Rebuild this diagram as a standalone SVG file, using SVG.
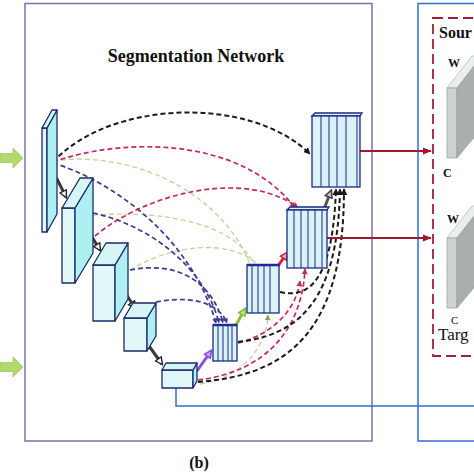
<svg xmlns="http://www.w3.org/2000/svg" width="474" height="474" viewBox="0 0 474 474">
<style>
.frame{fill:none;stroke-width:1.5}
.blk{stroke:#1b2a6b;stroke-width:1.3;stroke-linejoin:round}
.front{fill:#e2f8f8}
.side{fill:#aef0f2}
.top{fill:#d6f6f6}
.dec{fill:#daf2f8;stroke:#1b2a80;stroke-width:1.3}
.col{stroke:#1b2a80;stroke-width:1}
.dtop{stroke:#1c2a9a;stroke-width:2.5}
.d{fill:none;stroke-dasharray:5 3}
.nv{stroke:#3c3a8e;stroke-width:1.7}
.gr{stroke:#b8d69c;stroke-width:1.3}
.rd{stroke:#c4285a;stroke-width:1.7}
.bk{stroke:#1a1a1a;stroke-width:2}
.enc{stroke:#3a3a3a;stroke-width:3;fill:none}
.t{font-family:"Liberation Serif","Times New Roman",serif;fill:#111}
</style>
<defs>
<marker id="mk" viewBox="0 0 10 10" refX="9" refY="5" markerWidth="7" markerHeight="7" markerUnits="userSpaceOnUse" orient="auto"><path d="M0,0L10,5L0,10z" fill="#1a1a1a"/></marker>
<marker id="mr" viewBox="0 0 10 10" refX="9" refY="5" markerWidth="6" markerHeight="6" markerUnits="userSpaceOnUse" orient="auto"><path d="M0,0L10,5L0,10z" fill="#c4285a"/></marker>
<marker id="mg" viewBox="0 0 10 10" refX="9" refY="5" markerWidth="6" markerHeight="6" markerUnits="userSpaceOnUse" orient="auto"><path d="M0,0L10,5L0,10z" fill="#7aa84a"/></marker>
<marker id="mn" viewBox="0 0 10 10" refX="9" refY="5" markerWidth="5" markerHeight="5" markerUnits="userSpaceOnUse" orient="auto"><path d="M0,0L10,5L0,10z" fill="#3c3a8e"/></marker>
<marker id="me" viewBox="0 0 10 10" refX="8" refY="5" markerWidth="9" markerHeight="9" markerUnits="userSpaceOnUse" orient="auto"><path d="M1,1L9,5L1,9z" fill="#eef4f4" stroke="#222" stroke-width="1.5"/></marker>
<marker id="mp" viewBox="0 0 10 10" refX="8" refY="5" markerWidth="9" markerHeight="9" markerUnits="userSpaceOnUse" orient="auto"><path d="M1,1L9,5L1,9z" fill="#c8a8ff" stroke="#8a4fe6" stroke-width="1.8"/></marker>
<marker id="mG" viewBox="0 0 10 10" refX="8" refY="5" markerWidth="9" markerHeight="9" markerUnits="userSpaceOnUse" orient="auto"><path d="M1,1L9,5L1,9z" fill="#c8e890" stroke="#86c03a" stroke-width="1.8"/></marker>
<marker id="mR" viewBox="0 0 10 10" refX="8" refY="5" markerWidth="9" markerHeight="9" markerUnits="userSpaceOnUse" orient="auto"><path d="M1,1L9,5L1,9z" fill="#f8b0b8" stroke="#d0203a" stroke-width="1.8"/></marker>
<marker id="mK" viewBox="0 0 10 10" refX="8" refY="5" markerWidth="9" markerHeight="9" markerUnits="userSpaceOnUse" orient="auto"><path d="M1,1L9,5L1,9z" fill="#d0d0d0" stroke="#444" stroke-width="1.8"/></marker>
<marker id="ma" viewBox="0 0 10 10" refX="9" refY="5" markerWidth="9" markerHeight="9" markerUnits="userSpaceOnUse" orient="auto"><path d="M0,1L10,5L0,9z" fill="#a01830"/></marker>
</defs>

<rect width="474" height="474" fill="#ffffff"/>

<g id="frames">
<rect class="frame" x="25" y="3.5" width="347" height="437.5" stroke="#7a72b0"/>
<rect class="frame" x="418" y="3.5" width="70" height="437.5" stroke="#2f6fd6"/>
<rect x="433" y="18" width="60" height="338" fill="none" stroke="#a0203a" stroke-width="1.8" stroke-dasharray="10 5"/>
</g>

<g id="inputs" fill="#b2d870" stroke="#a0c860" stroke-width="0.8">
<path d="M0,153.5H13V148L23,158L13,168V162.5H0z"/>
<path d="M0,362.5H13V357L23,367L13,377V371.5H0z"/>
</g>

<text class="t" x="196" y="62" font-size="18" font-weight="bold" text-anchor="middle">Segmentation Network</text>
<text class="t" x="199" y="468" font-size="16" font-weight="bold" text-anchor="middle">(b)</text>

<g id="connectors">
<path class="d gr" d="M53,161 C130,150 220,190 250,264"/>
<path class="d gr" d="M93,215 C170,210 235,225 254,264"/>
<path class="d gr" d="M130,270 C170,245 230,238 257,264"/>
<path class="d gr" d="M200,384 C240,378 266,350 268,315" marker-end="url(#mg)"/>
<path class="d nv" d="M53,163 C110,180 190,235 216,323" marker-end="url(#mn)"/>
<path class="d nv" d="M93,213 C150,225 205,268 219,323" marker-end="url(#mn)"/>
<path class="d nv" d="M130,270 C170,262 210,275 223,323" marker-end="url(#mn)"/>
<path class="d nv" d="M156,302 C185,296 218,300 227,323" marker-end="url(#mn)"/>
<path class="d rd" d="M53,162 C120,138 240,135 295,208" marker-end="url(#mr)"/>
<path class="d rd" d="M95,236 C150,190 250,170 298,208" marker-end="url(#mr)"/>
<path class="d rd" d="M238,343 C270,335 296,312 300,281" marker-end="url(#mr)"/>
<path class="d rd" d="M198,380 C265,372 302,330 305,269" marker-end="url(#mr)"/>
<path class="d bk" d="M53,162 C110,100 250,95 310,154" marker-end="url(#mk)"/>
<path class="d bk" d="M280,292 C315,300 333,270 336,189" marker-end="url(#mk)"/>
<path class="d bk" d="M238,342 C300,335 338,300 340,189" marker-end="url(#mk)"/>
<path class="d bk" d="M198,382 C290,375 344,330 344,189" marker-end="url(#mk)"/>
<path class="enc" d="M56,177L66,197" marker-end="url(#me)"/>
<path class="enc" d="M89,232L100,250" marker-end="url(#me)"/>
<path class="enc" d="M124,291L135,308" marker-end="url(#me)"/>
<path class="enc" d="M149,346L162,364" marker-end="url(#me)"/>
<path d="M197,371L211,351" stroke="#8a4fe6" stroke-width="3" marker-end="url(#mp)"/>
<path d="M236,325L245,309" stroke="#86c03a" stroke-width="3" marker-end="url(#mG)"/>
<path d="M278,266L287,253" stroke="#d0203a" stroke-width="3" marker-end="url(#mR)"/>
<path d="M324,209L331,191" stroke="#555" stroke-width="3" marker-end="url(#mK)"/>
<path d="M360,151H431" stroke="#a01830" stroke-width="1.8" marker-end="url(#ma)"/>
<path d="M327,238H431" stroke="#a01830" stroke-width="1.8" marker-end="url(#ma)"/>
<path d="M176,388V406H474" fill="none" stroke="#2f6fd6" stroke-width="1.5"/>
</g>

<g id="e1" class="blk">
<rect class="front" x="42" y="128" width="5" height="104"/>
<path class="side" d="M47,128L57,110V214L47,232z"/>
<path class="top" d="M42,128L47,128L57,110L52,110z"/>
</g>
<g id="e2" class="blk">
<rect class="front" x="62" y="208" width="13" height="75"/>
<path class="side" d="M75,208L93,178V253L75,283z"/>
<path class="top" d="M62,208L75,208L93,178L80,178z"/>
</g>
<g id="e3" class="blk">
<rect class="front" x="93" y="265" width="22" height="56"/>
<path class="side" d="M115,265L128,243V299L115,321z"/>
<path class="top" d="M93,265L115,265L128,243L106,243z"/>
</g>
<g id="e4" class="blk">
<rect class="front" x="124" y="318" width="23" height="33"/>
<path class="side" d="M147,318L156,303V336L147,351z"/>
<path class="top" d="M124,318L147,318L156,303L133,303z"/>
</g>
<g id="e5" class="blk">
<rect class="front" x="162" y="370" width="31" height="18"/>
<path class="side" d="M193,370L197,363V381L193,388z"/>
<path class="top" d="M162,370L193,370L197,363L166,363z"/>
</g>

<g id="d1">
<rect class="dec" x="213" y="325" width="24" height="36"/>
<path class="col" d="M218,325V361M223,325V361M228,325V361M232,325V361"/>
<path class="dtop" d="M213,325H237"/>
</g>
<g id="d2">
<rect class="dec" x="247" y="265" width="32" height="48"/>
<path class="col" d="M252,265V313M258,265V313M264,265V313M270,265V313"/>
<path class="dtop" d="M247,265H279"/>
</g>
<g id="d3">
<path class="dec" d="M287,210L290,207H329L327,210z"/>
<rect class="dec" x="287" y="210" width="40" height="58"/>
<path class="col" d="M294,210V268M301,210V268M308,210V268M315,210V268M322,210V268"/>
</g>
<g id="d4">
<path class="dec" d="M312,116L315,113H362L360,116z"/>
<rect class="dec" x="312" y="116" width="48" height="71"/>
<path class="col" d="M321,116V187M329,116V187M337,116V187M346,116V187M357,116V187"/>
</g>

<g id="source">
<path d="M447,88L457,88L482,56L472,56z" fill="#eceeee" stroke="#9aa" stroke-width="0.6"/>
<rect x="447" y="88" width="10" height="70" fill="#cdd2d2" stroke="#8a9494" stroke-width="0.6"/>
<path d="M457,88L482,56V128L457,158z" fill="#a9afaf" stroke="#8a9494" stroke-width="0.6"/>
<text class="t" x="439" y="38" font-size="16" font-weight="bold">Sour</text>
<text class="t" x="448" y="67" font-size="12" font-weight="bold">W</text>
<text class="t" x="443" y="177" font-size="12" font-weight="bold">C</text>
</g>
<g id="target">
<path d="M447,238L457,238L482,206L472,206z" fill="#eceeee" stroke="#9aa" stroke-width="0.6"/>
<rect x="447" y="238" width="10" height="70" fill="#cdd2d2" stroke="#8a9494" stroke-width="0.6"/>
<path d="M457,238L482,206V278L457,308z" fill="#a9afaf" stroke="#8a9494" stroke-width="0.6"/>
<text class="t" x="447" y="223" font-size="12" font-weight="bold">W</text>
<text class="t" x="451" y="324" font-size="11">C</text>
<text class="t" x="438" y="340" font-size="17">Targ</text>
</g>
</svg>
